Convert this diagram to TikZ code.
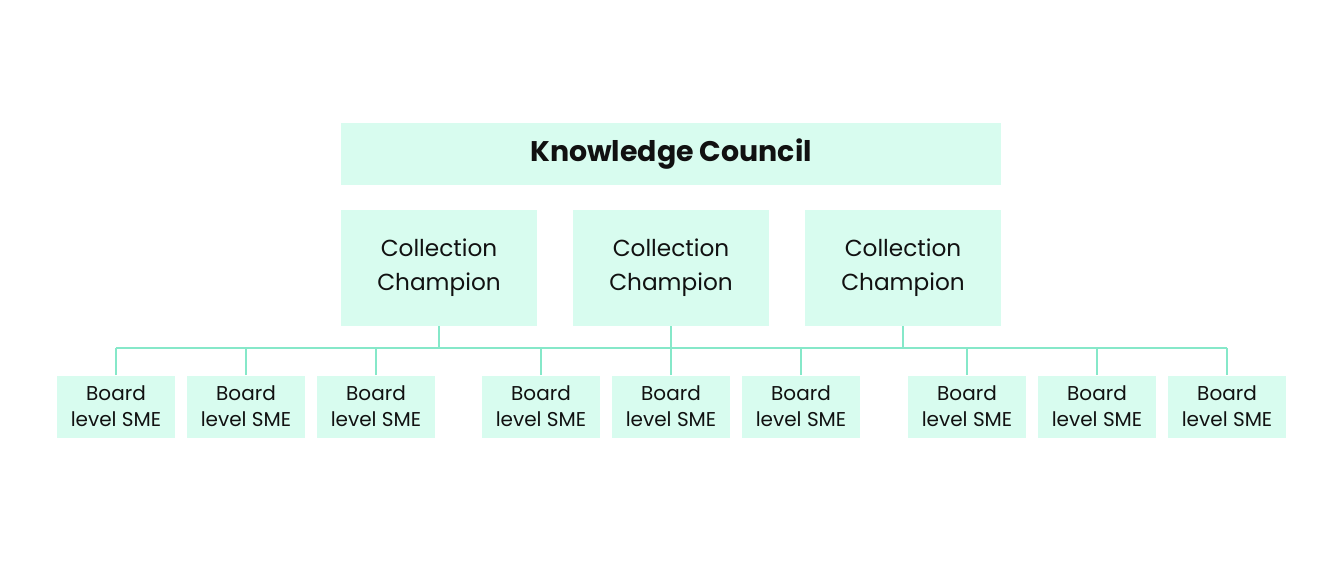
\documentclass[tikz,border=0pt]{standalone}
\usepackage{fontspec}
\setmainfont{Poppins}
\definecolor{boxfill}{HTML}{D8FCEF}
\definecolor{linecol}{HTML}{86E8C9}
\definecolor{txt}{HTML}{111111}
\begin{document}
\begin{tikzpicture}[x=0.75pt,y=-0.75pt,
  base/.style={fill=boxfill,draw=none,inner sep=0pt,align=center,text=txt},
  topbox/.style={base,minimum width=660*0.75pt,minimum height=62*0.75pt,font=\fontsize{21.3}{25}\selectfont\bfseries},
  champ/.style={base,minimum width=196*0.75pt,minimum height=116*0.75pt,font=\fontsize{17.4}{25.5}\selectfont},
  board/.style={base,minimum width=118*0.75pt,minimum height=62*0.75pt,font=\fontsize{15}{19.5}\selectfont},
  conn/.style={draw=linecol,line width=1.6pt}]
\useasboundingbox (0,0) rectangle (1344,560);
\node[topbox] (kc) at (671,154) {Knowledge Council};
\node[champ] (c1) at (439,268) {Collection\\Champion};
\node[champ] (c2) at (671,268) {Collection\\Champion};
\node[champ] (c3) at (903,268) {Collection\\Champion};
\foreach \i/\x in {1/116,2/246,3/376,4/541,5/671,6/801,7/967,8/1097,9/1227}{
  \node[board] (b\i) at (\x,406.5) {Board\\level SME};
}
\coordinate (busL) at (116,348);
\coordinate (busR) at (1227,348);
\draw[conn] (busL) -- (busR);
\foreach \c in {c1,c2,c3}{ \draw[conn] (\c.south) -- (\c.south |- busL); }
\foreach \i in {1,...,9}{ \draw[conn] (b\i.north) -- (b\i.north |- busL); }
\end{tikzpicture}
\end{document}
